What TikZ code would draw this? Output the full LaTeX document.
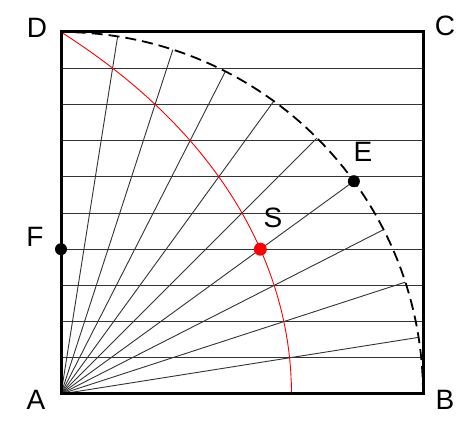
\documentclass[tikz,border=0pt]{standalone}
\usepackage{fontspec}
\setmainfont{Liberation Sans}
\usetikzlibrary{calc}
\begin{document}
\begin{tikzpicture}[x=1pt,y=1pt,
  lbl/.style={inner sep=0pt,font=\fontsize{28}{28}\selectfont},
  thin line/.style={draw=black!80,line width=0.9pt},
  frame/.style={draw=black,line width=3pt,line join=miter},
  arcline/.style={draw=black,line width=1.8pt,dash pattern=on 11pt off 6pt},
  quad/.style={draw=red,line width=0.9pt},
  dot/.style={circle,fill=black,inner sep=0pt,minimum size=12pt}]
\useasboundingbox (0,0) rectangle (474,436);
\def\s{362}
\coordinate (A) at (61,42);
\coordinate (B) at (423,42);
\coordinate (C) at (423,404);
\coordinate (D) at (61,404);
% horizontal lines
\foreach \k in {1,...,9}{
  \coordinate (L\k) at ($(A)+(0,\s*\k/10)$);
  \coordinate (R\k) at ($(B)+(0,\s*\k/10)$);
  \draw[thin line] (L\k) -- (R\k);
}
% rays
\foreach \k in {1,...,9}{
  \coordinate (P\k) at ($(A)+({9*\k}:\s)$);
  \draw[thin line] (A) -- (P\k);
}
% dashed arc
\draw[arcline] (B) arc[start angle=0,end angle=90,radius=\s];
% quadratrix
\coordinate (G) at ($(A)+({2*\s/pi},0)$);
\draw[quad] (D) -- plot[domain=89.5:0.5,samples=120]
  ({61+\s*(\x/90)*cot(\x)},{42+\s*(\x/90)}) -- (G);
% square
\draw[frame] (A) -- (B) -- (C) -- (D) -- cycle;
% points
\node[dot] (E) at ($(A)+(36:\s)$) {};
\node[dot] (F) at ($(A)+(0,\s*0.4)$) {};
\node[dot,fill=red,minimum size=13pt] (S) at ($(A)+({\s*0.4*cot(36)},{\s*0.4})$) {};
% labels
\node[lbl] (lA) at (36,36) {A};
\node[lbl] (lB) at (445,36) {B};
\node[lbl] (lC) at (445,410) {C};
\node[lbl] (lD) at (37,408) {D};
\node[lbl] (lE) at (363,284) {E};
\node[lbl] (lF) at (35,199) {F};
\node[lbl] (lS) at (273,218) {S};
\end{tikzpicture}
\end{document}
